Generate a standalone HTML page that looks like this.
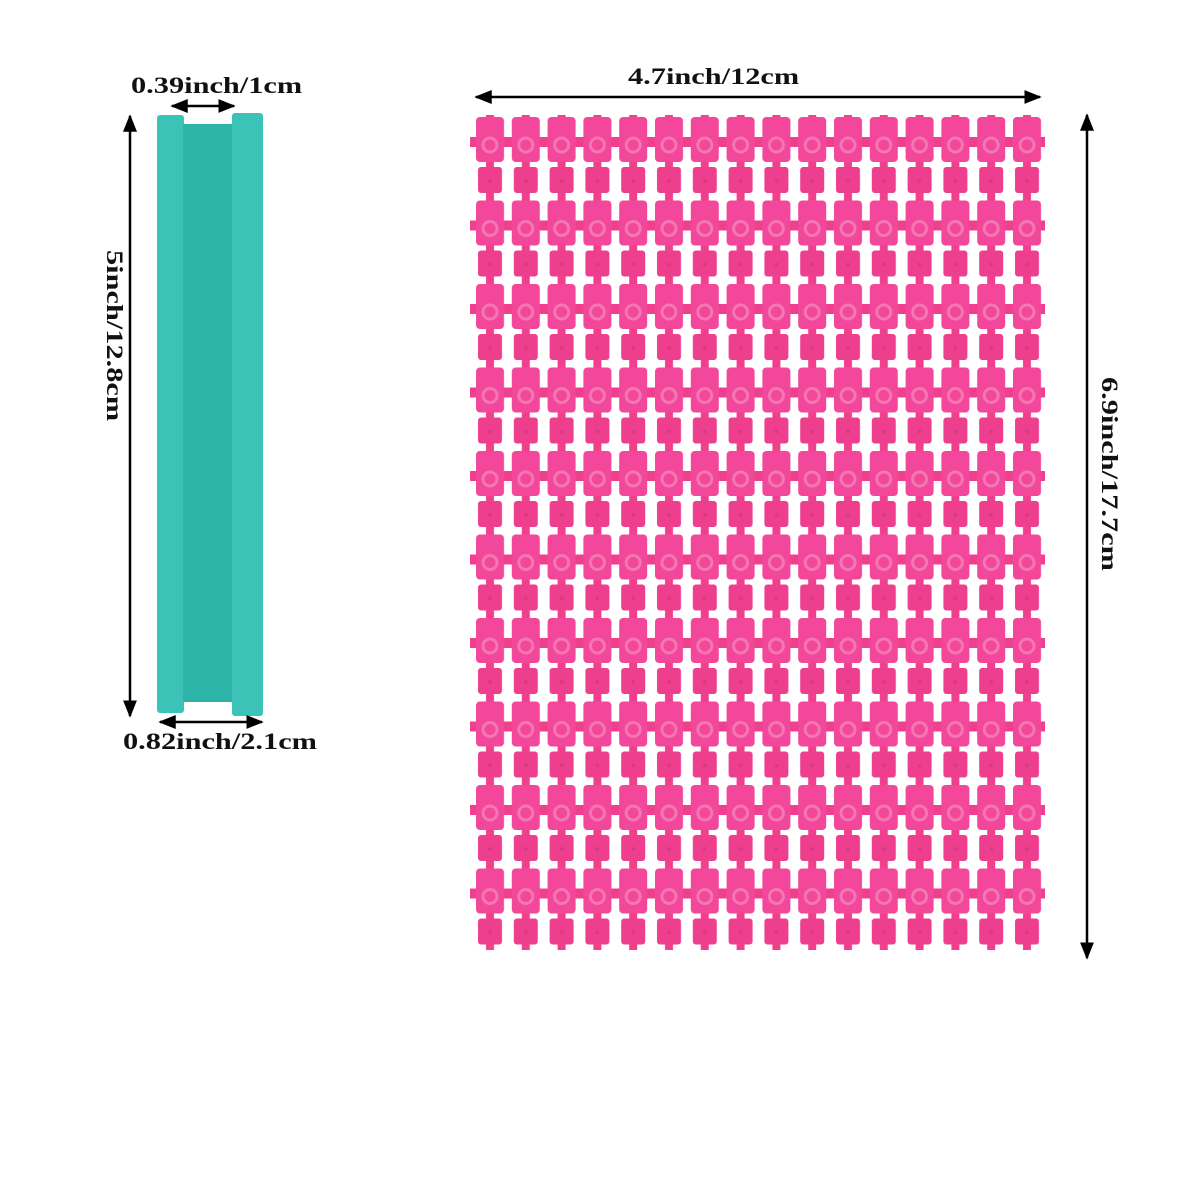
<!DOCTYPE html>
<html><head><style>
body{margin:0;background:#fff;width:1200px;height:1200px;overflow:hidden;position:relative;font-family:"Liberation Serif",serif}
.t{position:absolute;font-weight:bold;font-size:23px;color:#111;white-space:nowrap;transform-origin:0 0;transform:scaleX(1.32)}
.v{position:absolute;font-weight:bold;font-size:23px;color:#111;white-space:nowrap;transform-origin:0 0}
</style></head><body>
<svg width="1200" height="1200" style="position:absolute;left:0;top:0">
<defs>
<marker id="a" viewBox="0 0 10 10" refX="9" refY="5" markerWidth="7" markerHeight="7" orient="auto-start-reverse"><path d="M0,1 L10,5 L0,9 z" fill="#000"/></marker>
<pattern id="p" x="472" y="115" width="35.8" height="83.5" patternUnits="userSpaceOnUse">
<rect x="14" y="0" width="8" height="83.5" fill="#f0408d"/>
<rect x="0" y="22" width="35.8" height="10" fill="#f0408d"/>
<rect x="4" y="2" width="28" height="45" rx="4" fill="#f2479a"/>
<rect x="6" y="52" width="24" height="26" rx="3" fill="#ee3f8f"/>
<circle cx="18" cy="66" r="2" fill="#d93a82"/>
<path d="M11,30 a7,7 0 1 1 14,0 a7,7 0 1 1 -14,0" fill="none" stroke="#f577b2" stroke-width="3"/>
</pattern>
</defs>
<rect x="157" y="115" width="27" height="598" rx="3" fill="#3cc3b8"/>
<rect x="183" y="124" width="50" height="578" fill="#2db3a8"/>
<rect x="232" y="113" width="31" height="603" rx="3" fill="#3cc3b8"/>
<rect x="470" y="115" width="575" height="835" fill="url(#p)"/>
<g stroke="#000" stroke-width="2.5" fill="none">
<line x1="172" y1="106" x2="234" y2="106" marker-start="url(#a)" marker-end="url(#a)"/>
<line x1="160" y1="722" x2="262" y2="722" marker-start="url(#a)" marker-end="url(#a)"/>
<line x1="130" y1="116" x2="130" y2="716" marker-start="url(#a)" marker-end="url(#a)"/>
<line x1="476" y1="97" x2="1040" y2="97" marker-start="url(#a)" marker-end="url(#a)"/>
<line x1="1087" y1="115" x2="1087" y2="958" marker-start="url(#a)" marker-end="url(#a)"/>
</g>
</svg>
<div class="t" style="left:131px;top:73px">0.39inch/1cm</div>
<div class="t" style="left:123px;top:729px">0.82inch/2.1cm</div>
<div class="t" style="left:628px;top:64px">4.7inch/12cm</div>
<div class="v" style="left:127px;top:250px;transform:rotate(90deg) scaleX(1.32)">5inch/12.8cm</div>
<div class="v" style="left:1122px;top:377px;transform:rotate(90deg) scaleX(1.32)">6.9inch/17.7cm</div>
</body></html>
